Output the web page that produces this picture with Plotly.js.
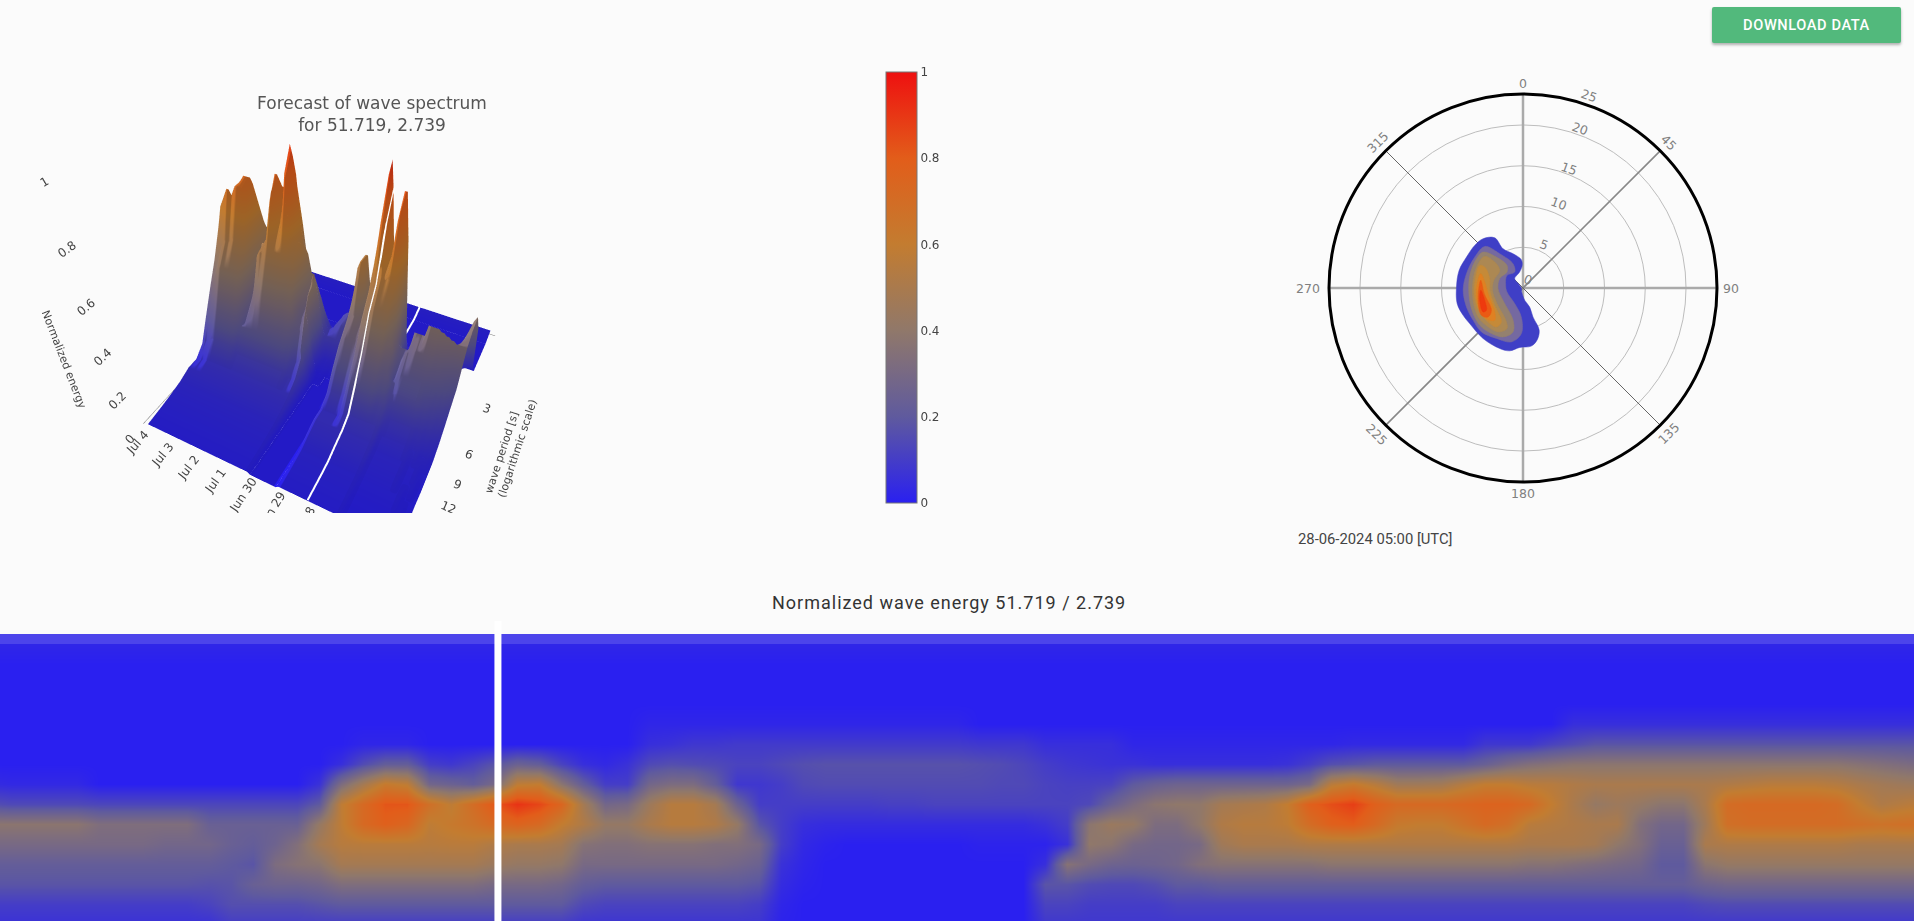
<!DOCTYPE html>
<html><head><meta charset="utf-8">
<script src="https://cdn.plot.ly/plotly-3.0.1.min.js"></script>
<style>
html,body{margin:0;padding:0;width:1914px;height:921px;overflow:hidden;background:#fbfbfb;}
#surf,#pol,#heat,#btn,#htitle,#stamp{position:absolute;}
#surf{left:0;top:0;width:960px;height:513px;}
#pol{left:1273.3px;top:37.7px;width:500px;height:500px;}
#heat{left:0;top:600px;width:1914px;height:321px;}
#btn{left:1712px;top:7px;width:189px;height:36px;background:#52b97c;color:#fff;font:500 14.6px Roboto,sans-serif;letter-spacing:.6px;line-height:36px;text-align:center;border-radius:2px;box-shadow:0 2px 3px rgba(0,0,0,.3);}
#htitle{left:772px;top:592px;font:400 18px Roboto,sans-serif;letter-spacing:1px;color:#333;white-space:nowrap;line-height:22px;}
#stamp{left:1298px;top:530px;font:400 14.8px Roboto,sans-serif;color:#444;white-space:nowrap;line-height:18px;}
</style></head><body>
<div id="surf"></div><div id="pol"></div><div id="heat"></div>
<div id="btn">DOWNLOAD DATA</div>
<div id="htitle">Normalized wave energy 51.719 / 2.739</div>
<div id="stamp">28-06-2024 05:00 [UTC]</div>
<script>
const hours=["06-25 09","06-25 11","06-25 13","06-25 15","06-25 17","06-25 19","06-25 21","06-25 23","06-26 01","06-26 03","06-26 05","06-26 07",
"06-26 09","06-26 11","06-26 13","06-26 15","06-26 17","06-26 19","06-26 21","06-26 23",
"06-27 01","06-27 03","06-27 05","06-27 07","06-27 09","06-27 11","06-27 13","06-27 15","06-27 17","06-27 19","06-27 21","06-27 23",
"06-28 01","06-28 03","06-28 05","06-28 07","06-28 09","06-28 11","06-28 13","06-28 15","06-28 17","06-28 19","06-28 21","06-28 23",
"06-29 01","06-29 03","06-29 05","06-29 07","06-29 09","06-29 11","06-29 13","06-29 15","06-29 17","06-29 19","06-29 21","06-29 23",
"06-30 01","06-30 03","06-30 05","06-30 07","06-30 09","06-30 11","06-30 13","06-30 15","06-30 17","06-30 19","06-30 21","06-30 23",
"07-01 01","07-01 03","07-01 05","07-01 07","07-01 09","07-01 11","07-01 13","07-01 15","07-01 17","07-01 19","07-01 21","07-01 23",
"07-02 01","07-02 03","07-02 05","07-02 07","07-02 09","07-02 11","07-02 13","07-02 15","07-02 17","07-02 19","07-02 21","07-02 23",
"07-03 01","07-03 03","07-03 05","07-03 07","07-03 09","07-03 11","07-03 13","07-03 15","07-03 17","07-03 19","07-03 21","07-03 23",
"07-04 01","07-04 03"];
const periods=[0.9,1.1,1.3,1.55,1.85,2.15,2.5,3.0,3.5,4.0,4.7,5.5,6.4,7.4,8.6,10,12,14,17,22];
const energyEarly=[
[2,2,2,2,2,2,2,2,2,2,2,2],
[0,0,0,0,0,0,0,0,0,0,0,0],
[0,0,0,0,0,0,0,0,0,0,0,0],
[0,0,0,0,0,0,0,0,0,0,0,0],
[0,0,0,0,0,0,0,0,0,0,0,0],
[8,7,6,5,4,3,2,1,0,0,0,0],
[30,28,24,20,16,12,9,6,4,2,1,0],
[40,38,34,30,26,22,18,14,10,8,6,4],
[38,36,34,32,30,28,26,24,22,20,18,16],
[34,34,34,34,34,35,35,36,36,37,37,38],
[20,21,22,23,24,25,26,27,28,28,29,30],
[15,16,17,18,18,19,19,20,20,21,21,22],
[10,11,12,12,13,14,14,15,16,16,17,18],
[6,6,7,7,8,8,8,9,9,9,10,10],
[3,3,4,4,4,4,5,5,5,5,6,6],
[2,2,2,2,3,3,3,3,3,4,4,4],
[1,1,1,2,2,2,2,2,2,3,3,3],
[1,1,1,1,1,1,2,2,2,2,2,2],
[0,0,0,0,1,1,1,1,1,1,1,1],
[0,0,0,0,0,0,0,0,0,0,0,0]
];
const energyLate=[
[2,2,2,2,2,2,2,2,2,2, 2,2,2,2,2,2,2,2,2,2, 2,2,2,2,2,2,2,2,2,2, 2,2,2,2,2,2,2,2,2,2, 2,2,2,2,2,2,2,2,2,2, 2,2,2,2,2,2,2,2,2,2, 2,2,2,2,2,2,2,2,2,2, 2,2,2,2,2,2,2,2,2,2, 2,2,2,2,2,2,2,2,2,2, 2,2,2,2],
[0,0,0,0,0,0,0,0,0,0, 0,0,0,0,0,0,0,0,0,0, 0,0,0,0,0,0,0,0,0,0, 0,0,0,0,0,0,0,0,0,0, 0,0,0,0,0,0,0,0,0,0, 0,0,0,0,0,0,0,0,0,0, 0,0,0,0,0,0,0,0,0,0, 0,0,0,0,0,0,0,0,0,0, 0,0,0,0,0,0,0,0,0,0, 0,0,0,0],
[0,0,0,0,0,0,0,0,0,0, 0,0,0,0,0,0,0,0,0,0, 0,0,0,0,0,0,0,0,0,0, 0,0,0,0,0,0,0,0,0,0, 0,0,0,0,0,0,0,0,0,0, 0,0,0,0,0,0,0,0,0,0, 0,0,0,0,0,0,0,0,0,0, 0,0,0,0,0,0,0,0,0,0, 0,0,0,0,0,0,0,0,0,0, 0,0,0,0],
[0,0,0,0,0,0,0,0,0,0, 0,0,0,0,0,0,0,0,0,0, 0,0,0,0,0,0,0,0,0,0, 0,0,0,0,0,0,0,0,0,0, 0,0,0,0,0,0,0,0,0,0, 0,0,0,0,0,0,0,0,0,0, 0,0,0,0,0,0,0,0,0,0, 0,0,0,0,0,0,0,0,0,0, 0,0,0,0,0,0,0,0,0,0, 0,0,0,0],
[0,0,0,0,0,0,0,0,0,0, 0,0,0,0,0,0,0,0,0,0, 0,0,0,0,0,0,0,0,0,2, 2,2,2,2,2,2,2,2,2,2, 2,2,2,2,0,0,0,0,0,0, 0,0,0,0,0,0,0,0,0,0, 0,0,0,0,0,0,0,0,0,0, 0,5,5,5,5,5,5,5,5,5, 5,5,5,5,5,5,5,5,5,5, 5,5,5,5],
[0,0,0,0,0,0,0,0,0,0, 0,0,0,0,0,0,2,2,2,0, 0,0,0,0,0,0,0,0,0,5, 6,8,8,9,9,9,9,9,9,9, 9,9,9,9,8,8,8,5,5,5, 5,2,2,2,2,2,2,2,2,2, 2,3,3,3,3,3,3,8,8,8, 12,15,18,18,18,18,18,18,18,18, 18,18,18,18,18,18,18,18,18,18, 18,16,16,16],
[0,0,0,0,0,0,0,0,0,0, 0,0,0,0,0,5,15,22,22,10, 8,12,18,25,22,12,5,3,6,14, 16,15,14,12,12,14,16,17,17,17, 17,17,17,17,16,15,13,10,8,7, 6,6,5,5,5,5,5,5,6,10, 16,18,20,20,20,20,20,24,30,34, 36,38,38,38,38,38,38,38,38,38, 38,38,38,38,36,34,32,30,28,26, 24,22,20,18],
[3,3,3,3,0,0,0,0,0,0, 0,0,0,0,6,32,48,62,58,28, 25,22,30,58,60,38,22,10,10,28, 32,32,22,8,8,10,14,15,15,15, 15,15,15,15,15,14,14,12,11,11, 12,20,24,26,26,26,26,26,26,30, 56,62,55,46,46,47,54,60,60,56, 55,52,50,50,50,50,50,50,52,54, 56,56,56,54,50,47,45,44,44,42, 40,38,36,34],
[14,14,14,14,13,13,13,13,13,13, 13,13,13,13,20,58,72,82,82,68, 58,70,82,91,86,75,48,28,30,45, 55,55,48,25,10,10,10,10,10,10, 11,11,12,12,12,12,12,12,12,14, 24,32,38,40,40,48,50,52,60,78, 84,88,78,72,72,72,74,76,76,72, 60,50,42,45,42,38,38,50,70,72, 72,72,72,70,60,52,55,58,60,60, 58,56,52,48],
[38,38,38,38,33,33,33,33,33,24, 24,24,24,24,42,58,72,78,74,58, 62,66,72,76,72,60,52,42,42,50, 55,55,52,42,18,10,5,4,4,4, 4,4,4,4,4,4,4,6,10,38, 44,42,32,32,40,52,55,55,58,70, 78,80,72,62,60,60,66,72,68,56, 54,52,50,50,34,28,28,46,68,70, 70,70,70,70,68,66,68,68,66,64, 62,60,56,52],
[30,30,30,30,30,30,30,28,28,28, 24,22,26,34,48,55,56,56,56,55, 56,56,52,50,50,48,36,34,34,36, 36,36,34,34,30,10,3,1,0,0, 0,0,0,0,1,1,1,1,6,40, 38,30,28,28,30,46,50,50,50,52, 52,52,52,52,52,52,52,52,52,50, 50,50,48,40,34,24,24,50,52,52, 52,52,52,52,50,50,50,50,48,46, 44,44,42,40],
[22,22,22,22,22,22,22,22,22,22, 20,18,32,36,38,48,48,48,48,48, 48,48,44,42,42,40,30,30,30,30, 30,30,30,28,25,6,2,0,0,0, 0,0,0,0,0,0,0,5,36,30, 26,25,26,28,34,36,36,36,36,36, 38,38,38,38,38,38,38,38,38,36, 36,34,32,30,28,20,20,38,42,42, 42,42,42,42,42,42,42,42,40,38, 36,34,32,30],
[18,18,18,18,18,18,18,18,18,17, 18,24,26,26,28,33,33,33,33,33, 33,33,30,30,30,28,22,20,20,20, 20,20,20,20,18,4,1,0,0,0, 0,0,0,0,0,0,0,18,18,15, 14,14,16,20,20,22,22,22,22,22, 22,22,22,22,22,22,22,22,22,22, 22,22,22,22,22,22,22,26,28,28, 28,28,28,28,28,28,28,28,26,24, 24,22,22,20],
[10,10,10,10,10,10,10,10,10,12, 16,16,16,16,18,20,20,20,20,20, 20,20,20,20,20,20,14,12,12,12, 12,12,12,12,10,2,0,0,0,0, 0,0,0,0,0,0,0,12,12,10, 10,10,10,12,12,12,12,12,12,12, 12,12,12,12,12,12,12,12,12,12, 12,12,12,12,12,12,12,14,15,15, 15,15,15,15,15,15,15,15,14,14, 12,12,12,10],
[6,6,6,6,6,6,6,6,6,6, 10,10,10,10,10,10,10,10,10,10, 10,10,10,10,10,10,7,7,7,7, 7,7,7,7,7,1,0,0,0,0, 0,0,0,0,0,0,0,8,8,8, 8,8,8,8,8,8,8,8,8,8, 8,8,8,8,8,8,8,8,8,8, 8,8,8,8,8,8,8,8,8,8, 8,8,8,8,8,8,8,8,8,7, 7,7,6,6],
[4,4,4,4,4,4,4,4,4,4, 7,7,7,7,7,7,7,7,7,7, 7,7,7,7,7,7,7,7,7,7, 7,7,7,7,7,0,0,0,0,0, 0,0,0,0,0,0,0,6,6,6, 6,6,6,6,6,6,6,6,6,6, 6,6,6,6,6,6,6,6,6,6, 6,6,6,6,6,6,6,6,6,6, 6,6,6,6,6,6,6,6,6,6, 6,6,6,6],
[3,3,3,3,3,3,3,3,3,3, 5,5,5,5,5,5,5,5,5,5, 5,5,5,5,5,5,5,5,5,5, 5,5,5,5,5,0,0,0,0,0, 0,0,0,0,0,0,0,4,4,4, 4,4,4,4,4,4,4,4,4,4, 4,4,4,4,4,4,4,4,4,4, 4,4,4,4,4,4,4,4,4,4, 4,4,4,4,4,4,4,4,4,4, 4,4,4,4],
[2,2,2,2,2,2,2,2,2,2, 3,3,3,3,3,3,3,3,3,3, 3,3,3,3,3,3,3,3,3,3, 3,3,3,3,3,0,0,0,0,0, 0,0,0,0,0,0,0,3,3,3, 3,3,3,3,3,3,3,3,3,3, 3,3,3,3,3,3,3,3,3,3, 3,3,3,3,3,3,3,3,3,3, 3,3,3,3,3,3,3,3,3,3, 3,3,3,3],
[1,1,1,1,1,1,1,1,1,1, 2,2,2,2,2,2,2,2,2,2, 2,2,2,2,2,2,2,2,2,2, 2,2,2,2,2,0,0,0,0,0, 0,0,0,0,0,0,0,2,2,2, 2,2,2,2,2,2,2,2,2,2, 2,2,2,2,2,2,2,2,2,2, 2,2,2,2,2,2,2,2,2,2, 2,2,2,2,2,2,2,2,2,2, 2,2,2,2],
[0,0,0,0,0,0,0,0,0,0, 1,1,1,1,1,1,1,1,1,1, 1,1,1,1,1,1,1,1,1,1, 1,1,1,1,1,0,0,0,0,0, 0,0,0,0,0,0,0,1,1,1, 1,1,1,1,1,1,1,1,1,1, 1,1,1,1,1,1,1,1,1,1, 1,1,1,1,1,1,1,1,1,1, 1,1,1,1,1,1,1,1,1,1, 1,1,1,1]
];
const rowIndex=[0,1,2,3,4,5,6,7,8,9,10,11,12,13,14,15,16,17,18,19];
const forecastCol=34;
const forecastMarker="2024-06-28 05:16";
const dayTicks=["2024-06-27","2024-06-28","2024-06-29","2024-06-30","2024-07-01","2024-07-02","2024-07-03","2024-07-04"];
const dayLabels=["Jun 27","Jun 28","Jun 29","Jun 30","Jul 1","Jul 2","Jul 3","Jul 4"];
const periodTicks=[3,6,9,12,15,18,21];
const energyTicks=[0,0.2,0.4,0.6,0.8,1];
const sceneTimeRange=["2024-06-25 04:00","2024-07-04 08:00"];
const scenePeriodEnds=[0.9,22];

const bandColors=["#3f3fc6","#7569a0","#94816f","#ac8853","#c58a38","#df8122","#ea5a14","#ee3a0e"];
const bandTheta1=[330.6,333,343.8,356.6,358,348,318,312,270,198,172,160.7,161,159,165,171.9,183,192,201,218.3,236,245.5,256.6,270.9,285.4,298.7,311.4,321,330.6];
const bandR1=[7.07,5.4,4.38,3.48,2.78,2.0,1.53,0.66,0.2,0.5,1.52,2.47,3.76,5.54,6.63,7.2,7.3,7.88,7.96,7.9,7.86,8.07,8.3,8.16,8.13,7.9,7.9,7.78,7.07];
const bandTheta2=[317.4,325.8,337.7,332.5,308,278.7,256,208,183.3,182,192,207.8,223.4,237,251.5,267.8,284,302.7,317.4];
const bandR2=[6.93,5.08,3.22,2.2,2.5,2.15,2.02,2.17,3.56,5.6,6.76,7.0,7.42,7.29,7.32,7.35,7.16,7.03,6.93];
const bandTheta3=[312,319.3,324.8,315,291.8,268.5,238,197,192.8,202,214.7,229,242.8,260.5,283.4,302,312];
const bandR3=[6.59,5.0,3.4,2.77,3.08,3.06,2.88,4.14,5.53,6.48,6.8,7.0,6.88,6.7,6.71,6.75,6.59];
const bandTheta4=[309.6,312.5,307,284.6,265.6,239,208,201.5,209.6,222,237,256,280.6,298.4,309.6];
const bandR4=[6.09,4.7,3.58,3.71,3.76,3.72,4.49,5.35,6.2,6.41,6.55,6.3,6.2,6.26,6.09];
const bandTheta5=[297.6,298.7,285.6,266,238.5,212.5,214.4,225.8,241.4,259.5,277,297.6];
const bandR5=[5.99,5.35,4.24,4.09,4.07,4.94,5.79,5.97,6.1,6.02,5.95,5.99];
const bandTheta6=[288.7,279,258,229.7,221.2,230,242.7,261,275.4,288.7];
const bandR6=[5.47,4.75,4.31,4.55,5.27,5.85,5.97,5.78,5.66,5.47];
const bandTheta7=[280.3,261.6,234.8,230.4,236.7,256.7,280.3];
const bandR7=[5.27,4.8,4.74,5.57,6.1,5.66,5.27];
const bandTheta8=[266.8,252,238.7,239,254,266.8];
const bandR8=[5.19,4.93,5.25,5.71,5.52,5.19];

const angleLabels=["0","45","90","135","180","225","270","315"];
const angleValues=[0,45,90,135,180,225,270,315];
const radialLabels=["0","5","10","15","20","25"];

const colorscale=[[0,"#2a20f0"],[0.2,"#5f5a9e"],[0.4,"#90786a"],[0.6,"#c37c30"],[0.8,"#e25d1a"],[1,"#ee1010"]];
const full=h=>"2024-"+h+":00";
const times=hours.map(full);
const zFrac=energyLate.map((r,i)=>energyEarly[i].concat(r).map(v=>v/100));
const lineZ=zFrac.map(r=>r[forecastCol]+0.004);
const lineX=periods.map(()=>times[forecastCol]);

const axisFont={family:"DejaVu Sans, sans-serif",size:12,color:"#444"};
const noGrid={showbackground:false,showgrid:false,zeroline:false,showspikes:false,showline:false,tickfont:axisFont,ticks:""};
const guide={type:"scatter3d",mode:"lines",line:{color:"#777",width:1},hoverinfo:"skip",showlegend:false};

Plotly.newPlot("surf",[
 {type:"surface",x:times,y:periods,z:zFrac,colorscale:colorscale,cmin:0,cmax:1,hoverinfo:"skip",
  showscale:true,
  colorbar:{x:886/960,xanchor:"left",y:1-287.5/513,yanchor:"middle",lenmode:"pixels",len:431,thickness:31,xpad:0,ypad:0,
    outlinecolor:"#777",outlinewidth:1,tickvals:energyTicks,ticks:"",tickfont:{family:"DejaVu Sans, sans-serif",size:12,color:"#444"}}},
 {type:"scatter3d",mode:"lines",x:lineX,y:periods,z:lineZ,line:{color:"#ffffff",width:4},hoverinfo:"skip",showlegend:false},
 Object.assign({},guide,{x:[sceneTimeRange[1],sceneTimeRange[1]],y:scenePeriodEnds,z:[0,0]}),
 Object.assign({},guide,{x:sceneTimeRange,y:[scenePeriodEnds[0],scenePeriodEnds[0]],z:[0,0]})
],{
 width:960,height:513,margin:{l:0,r:0,t:0,b:0},paper_bgcolor:"rgba(0,0,0,0)",
 title:{text:"Forecast of wave spectrum<br>for 51.719, 2.739",x:372/960,xanchor:"center",y:1-109/513,yanchor:"top",font:{family:"DejaVu Sans, sans-serif",size:17,color:"#555"}},
 scene:{domain:{x:[0,664/960],y:[0,1]},aspectmode:"manual",aspectratio:{x:1,y:1,z:1.04},
  camera:{eye:{x:-0.723,y:1.418,z:1.31},center:{x:0,y:0,z:0.066},up:{x:0,y:0,z:1}},
  xaxis:Object.assign({},noGrid,{type:"date",range:sceneTimeRange,tickvals:dayTicks,ticktext:dayLabels,title:{text:""}}),
  yaxis:Object.assign({},noGrid,{type:"log",range:[-0.0458,1.342],tickvals:periodTicks,title:{text:"wave period [s]<br>(logarithmic scale)",font:{family:"DejaVu Sans, sans-serif",size:11,color:"#444"}}}),
  zaxis:Object.assign({},noGrid,{range:[0,1],tickvals:energyTicks,title:{text:"Normalized energy",font:{family:"DejaVu Sans, sans-serif",size:11,color:"#444"}}})
 }
},{displayModeBar:false});

Plotly.newPlot("heat",[{type:"heatmap",x:times,y:rowIndex,z:zFrac,colorscale:colorscale,zmin:0,zmax:1,showscale:false,zsmooth:"best",hoverinfo:"skip"}],{
 width:1914,height:321,margin:{l:0,r:0,t:34,b:0},paper_bgcolor:"rgba(0,0,0,0)",plot_bgcolor:"rgba(0,0,0,0)",
 xaxis:{visible:false,type:"date",range:["2024-06-26 08:00","2024-07-03 14:00"]},
 yaxis:{visible:false,range:[13.85,-0.5]},
 shapes:[{type:"rect",xref:"paper",yref:"paper",x0:0,x1:1,y0:1-10/287,y1:1,line:{width:0},fillcolor:"rgba(255,255,255,0.14)"},
  {type:"line",xref:"x",yref:"paper",x0:forecastMarker,x1:forecastMarker,y0:0,y1:1+13/287,line:{color:"#ffffff",width:7}}]
},{displayModeBar:false,staticPlot:true});

const rMax=23.8, polR=194.3;
const spoke=(a,c,w)=>({type:"scatterpolar",mode:"lines",r:[rMax,rMax],theta:[a,a+180],line:{color:c,width:w},hoverinfo:"skip",showlegend:false});
const band=(t,r,c)=>({type:"scatterpolar",mode:"lines",r:r,theta:t,fill:"toself",fillcolor:c,line:{color:c,width:0.5,shape:"spline",smoothing:1},hoverinfo:"skip",showlegend:false});
const polTraces=[spoke(0,"#aaaaaa",2.5),spoke(90,"#aaaaaa",2.5),spoke(45,"#888888",1.6),spoke(135,"#666666",1),
 band(bandTheta1,bandR1,bandColors[0]),band(bandTheta2,bandR2,bandColors[1]),band(bandTheta3,bandR3,bandColors[2]),band(bandTheta4,bandR4,bandColors[3]),
 band(bandTheta5,bandR5,bandColors[4]),band(bandTheta6,bandR6,bandColors[5]),band(bandTheta7,bandR7,bandColors[6]),band(bandTheta8,bandR8,bandColors[7])];
const angleRadius=[205,206.5,208,206.5,205.6,207,215,206];
const angleTilt=[0,45,0,-45,0,45,0,-45];
const radialOffset=[[5,8.3],[20.7,43.3],[36,85],[45.7,119.3],[56.7,159.3],[65.7,192.7]];
const annFont={family:"DejaVu Sans, sans-serif",size:12.5,color:"#808080"};
const toPaperX=d=>0.5+d/(2*polR), toPaperY=d=>0.5+d/(2*polR);
const anns=angleLabels.map((t,i)=>({text:t,xref:"paper",yref:"paper",showarrow:false,font:annFont,textangle:angleTilt[i],xanchor:"center",yanchor:"middle",
  x:toPaperX(angleRadius[i]*Math.sin(angleValues[i]*Math.PI/180)),y:toPaperY(angleRadius[i]*Math.cos(angleValues[i]*Math.PI/180))}))
 .concat(radialLabels.map((t,i)=>({text:t,xref:"paper",yref:"paper",showarrow:false,font:annFont,textangle:20,xanchor:"center",yanchor:"middle",
  x:toPaperX(radialOffset[i][0]),y:toPaperY(radialOffset[i][1])})));
Plotly.newPlot("pol",polTraces,{
 width:500,height:500,margin:{l:55.7,r:55.7,t:55.7,b:55.7},paper_bgcolor:"rgba(0,0,0,0)",showlegend:false,annotations:anns,
 polar:{domain:{x:[0,1],y:[0,1]},bgcolor:"rgba(0,0,0,0)",
  angularaxis:{rotation:90,direction:"clockwise",showticklabels:false,ticks:"",showgrid:false,linecolor:"#000",linewidth:3,tickvals:angleValues},
  radialaxis:{range:[0,rMax],showticklabels:false,ticks:"",showline:false,gridcolor:"#bdbdbd",gridwidth:1,dtick:5,angle:90}}
},{displayModeBar:false,staticPlot:true});
</script></body></html>
